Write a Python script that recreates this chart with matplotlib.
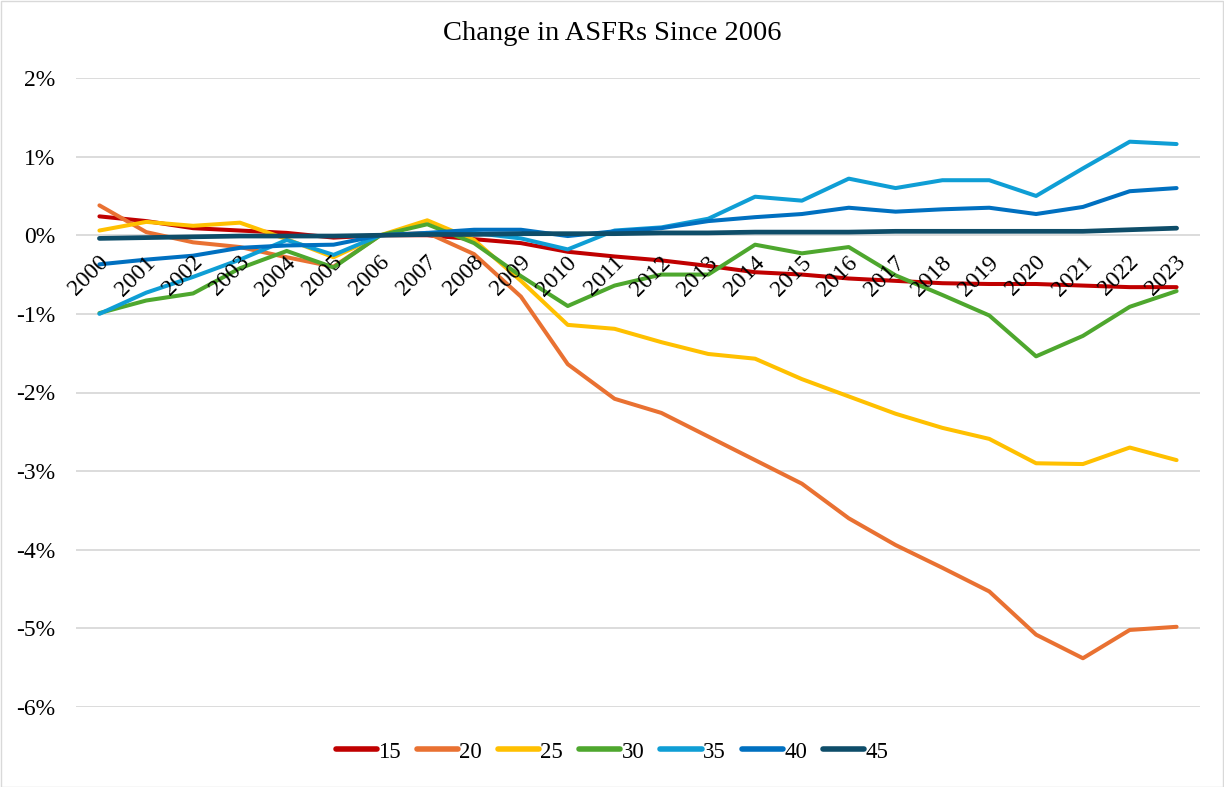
import matplotlib
matplotlib.use("Agg")
import matplotlib.pyplot as plt
from matplotlib.patches import Rectangle

years = [str(y) for y in range(2000, 2024)]

s15 = [0.24, 0.18, 0.09, 0.06, 0.03, -0.03, 0.00, 0.00, -0.05, -0.10, -0.21, -0.27,
       -0.32, -0.39, -0.47, -0.50, -0.55, -0.58, -0.61, -0.62, -0.62, -0.64, -0.66, -0.66]
s20 = [0.38, 0.04, -0.09, -0.15, -0.28, -0.40, 0.00, 0.03, -0.24, -0.78, -1.64, -2.08,
       -2.26, -2.56, -2.86, -3.16, -3.60, -3.94, -4.23, -4.53, -5.08, -5.38, -5.02, -4.98]
s25 = [0.06, 0.17, 0.12, 0.16, -0.05, -0.28, 0.00, 0.19, -0.06, -0.58, -1.14, -1.19,
       -1.36, -1.51, -1.57, -1.83, -2.05, -2.27, -2.45, -2.59, -2.90, -2.91, -2.70, -2.86]
s30 = [-0.99, -0.83, -0.74, -0.42, -0.20, -0.41, 0.00, 0.14, -0.10, -0.52, -0.90, -0.64,
       -0.50, -0.50, -0.12, -0.23, -0.15, -0.51, -0.76, -1.02, -1.54, -1.28, -0.91, -0.71]
s35 = [-1.00, -0.73, -0.53, -0.31, -0.06, -0.25, 0.00, 0.02, 0.03, -0.04, -0.18, 0.06,
       0.10, 0.21, 0.49, 0.44, 0.72, 0.60, 0.70, 0.70, 0.50, 0.85, 1.19, 1.16]
s40 = [-0.37, -0.31, -0.26, -0.16, -0.13, -0.12, 0.00, 0.03, 0.07, 0.07, -0.01, 0.05,
       0.09, 0.18, 0.23, 0.27, 0.35, 0.30, 0.33, 0.35, 0.27, 0.36, 0.56, 0.60]
s45 = [-0.04, -0.03, -0.02, -0.01, -0.01, -0.01, 0.00, 0.01, 0.01, 0.02, 0.02, 0.02,
       0.03, 0.03, 0.04, 0.04, 0.04, 0.05, 0.05, 0.05, 0.05, 0.05, 0.07, 0.09]

labels = ["15", "20", "25", "30", "35", "40", "45"]
series = [s15, s20, s25, s30, s35, s40, s45]
colors = ["#C00000", "#E97132", "#FFC000", "#4EA72E", "#0F9ED5", "#0070C0", "#0E4D69"]
widths = [2.9, 2.9, 2.9, 2.9, 2.9, 2.9, 3.4]

FONT = ["Liberation Serif", "DejaVu Serif"]
plt.rcParams["font.family"] = FONT

fig = plt.figure(figsize=(12.24, 7.87), dpi=100)
ax = fig.add_axes([76 / 1224, 1 - 707 / 787, (1200 - 76) / 1224, (707 - 78) / 787])

x = list(range(len(years)))
for s, lab, c, w in zip(series, labels, colors, widths):
    ax.plot(x, s, color=c, lw=w, label=lab, solid_capstyle="round",
            solid_joinstyle="round", zorder=3)

ax.set_xlim(-0.5, len(years) - 0.5)
ax.set_ylim(-6, 2)
ax.set_yticks(range(-6, 3))
ax.set_yticklabels([f"{v}%" for v in range(-6, 3)], fontsize=17)
ax.tick_params(axis="y", length=0, pad=15)
ax.set_xticks([])
for sp in ax.spines.values():
    sp.set_visible(False)
ax.grid(axis="y", color="#D9D9D9", lw=1.3, zorder=0)

for i, yr in enumerate(years):
    ax.annotate(yr, xy=(i, 0), xycoords="data", xytext=(-1, -12),
                textcoords="offset points", rotation=45, rotation_mode="anchor",
                ha="right", va="top", fontsize=17, color="#000000")

fig.text(0.5, 1 - 33 / 787, "Change in ASFRs Since 2006", ha="center", va="center",
         fontsize=20.5)

leg = fig.legend(loc="center", bbox_to_anchor=(0.5, 1 - 752 / 787), ncol=7,
                 frameon=False, fontsize=16.5, handlelength=1.8, handletextpad=0.05,
                 columnspacing=0.7)
for h in leg.legend_handles:
    h.set_linewidth(4.0)
    h.set_solid_capstyle("round")

fig.add_artist(Rectangle((0.5 / 1224, 0.5 / 787), 1 - 1.5 / 1224, 1 - 1.5 / 787,
                         transform=fig.transFigure, fill=False, edgecolor="#D9D9D9",
                         lw=1))

fig.savefig("out.png", dpi=100)
